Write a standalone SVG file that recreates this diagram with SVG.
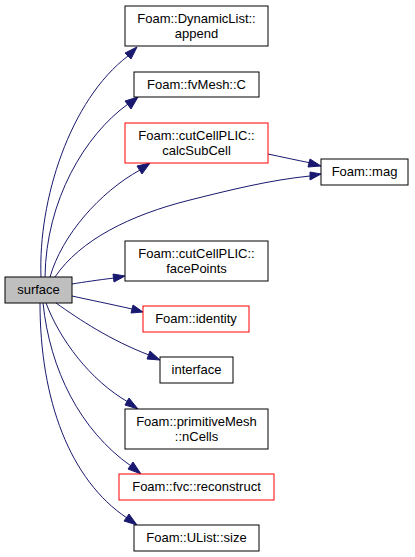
<svg xmlns="http://www.w3.org/2000/svg" width="415" height="557" viewBox="0 0 415 557">
<style>
.n rect{fill:#fff;stroke:#000;stroke-width:1}
.n.r rect{stroke:#ff0000}
.n.cur rect{fill:#bfbfbf;stroke:#000}
.n text{font-family:"Liberation Sans",Arial,sans-serif;font-size:13px;text-anchor:middle;fill:#000}
.e path{fill:none;stroke:#191970;stroke-width:1}
.e polygon{fill:#191970;stroke:#191970}
</style>
<rect width="415" height="557" fill="#fff"/>
<g id="edges" class="e">
<path d="M41,277 C38,200 70,100 128,56"/><polygon points="125,53 137,47 131,59"/>
<path d="M45,277 C46,200 85,135 128,104"/><polygon points="125,101 138,97 131,109"/>
<path d="M50,277 C62,235 100,192 140,170"/><polygon points="137,166 150,163 142,174"/>
<path d="M268,154 C282,157 296,160 311,163"/><polygon points="310,159 321,166 308,167"/>
<path d="M55,277 C80,240 130,215 190,200 C230,190 270,180 310,176"/><polygon points="310,172 321,174 310,180"/>
<path d="M72,284 C84,282 98,280 114,278"/><polygon points="113,274 125,276 114,282"/>
<path d="M72,296 C90,300 110,304 132,309"/><polygon points="133,305 143,312 131,313"/>
<path d="M56,303 C80,320 110,340 149,355"/><polygon points="150,351 160,360 147,359"/>
<path d="M46,303 C60,340 90,380 128,402"/><polygon points="129,398 138,409 125,405"/>
<path d="M43,303 C50,370 80,430 131,466"/><polygon points="133,462 141,474 128,469"/>
<path d="M40,303 C40,400 70,480 127,518"/><polygon points="129,514 137,525 124,521"/>
</g>
<g id="surface" class="n cur"><rect x="5" y="277" width="67" height="26"/><text x="38.5" y="294">surface</text></g>
<g id="append" class="n"><rect x="125" y="6" width="143" height="40"/><text x="196.5" y="23">Foam::DynamicList::</text><text x="196.5" y="38">append</text></g>
<g id="fvMeshC" class="n"><rect x="134" y="72" width="125" height="25"/><text x="196.5" y="89">Foam::fvMesh::C</text></g>
<g id="calcSubCell" class="n r"><rect x="125" y="123" width="143" height="40"/><text x="196.5" y="140">Foam::cutCellPLIC::</text><text x="196.5" y="155">calcSubCell</text></g>
<g id="mag" class="n"><rect x="321" y="159" width="87" height="26"/><text x="364.5" y="176">Foam::mag</text></g>
<g id="facePoints" class="n"><rect x="125" y="241" width="143" height="40"/><text x="196.5" y="258">Foam::cutCellPLIC::</text><text x="196.5" y="273">facePoints</text></g>
<g id="identity" class="n r"><rect x="143" y="306" width="106" height="26"/><text x="196" y="323">Foam::identity</text></g>
<g id="interface" class="n"><rect x="160" y="357" width="73" height="26"/><text x="196.5" y="374">interface</text></g>
<g id="nCells" class="n"><rect x="125" y="409" width="143" height="40"/><text x="196.5" y="426">Foam::primitiveMesh</text><text x="196.5" y="441">::nCells</text></g>
<g id="reconstruct" class="n r"><rect x="119" y="474" width="155" height="26"/><text x="196.5" y="491">Foam::fvc::reconstruct</text></g>
<g id="size" class="n"><rect x="134" y="525" width="125" height="26"/><text x="196.5" y="542">Foam::UList::size</text></g>
</svg>
